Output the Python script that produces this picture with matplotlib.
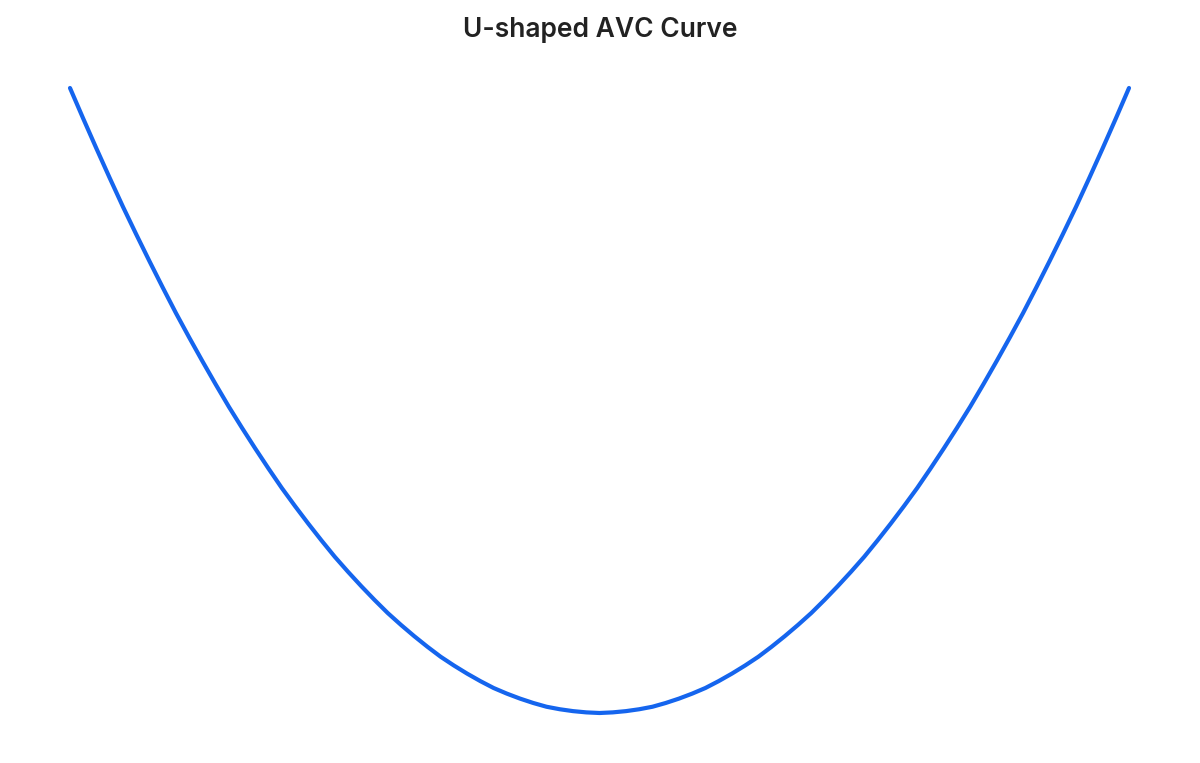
import matplotlib
matplotlib.use('Agg')
import matplotlib.pyplot as plt  # noqa: E402

# quantity and average variable cost
quantity = [0.0, 0.125, 0.25, 0.375, 0.5, 0.625, 0.75, 0.875,
            1.0, 1.125, 1.25, 1.375, 1.5, 1.625, 1.75, 1.875,
            2.0, 2.125, 2.25, 2.375, 2.5, 2.625, 2.75, 2.875,
            3.0, 3.125, 3.25, 3.375, 3.5, 3.625, 3.75, 3.875,
            4.0, 4.125, 4.25, 4.375, 4.5, 4.625, 4.75, 4.875,
            5.0, 5.125, 5.25, 5.375, 5.5, 5.625, 5.75, 5.875,
            6.0, 6.125, 6.25, 6.375, 6.5, 6.625, 6.75, 6.875,
            7.0, 7.125, 7.25, 7.375, 7.5, 7.625, 7.75, 7.875,
            8.0, 8.125, 8.25, 8.375, 8.5, 8.625, 8.75, 8.875,
            9.0, 9.125, 9.25, 9.375, 9.5, 9.625, 9.75, 9.875, 10.0]
avc = [12.00, 11.51, 11.03, 10.56, 10.10, 9.66, 9.23, 8.81,
       8.40, 8.01, 7.63, 7.26, 6.90, 6.56, 6.23, 5.91,
       5.60, 5.31, 5.03, 4.76, 4.50, 4.26, 4.03, 3.81,
       3.60, 3.41, 3.23, 3.06, 2.90, 2.76, 2.63, 2.51,
       2.40, 2.31, 2.23, 2.16, 2.10, 2.06, 2.03, 2.01,
       2.00, 2.01, 2.03, 2.06, 2.10, 2.16, 2.23, 2.31,
       2.40, 2.51, 2.63, 2.76, 2.90, 3.06, 3.23, 3.41,
       3.60, 3.81, 4.03, 4.26, 4.50, 4.76, 5.03, 5.31,
       5.60, 5.91, 6.23, 6.56, 6.90, 7.26, 7.63, 8.01,
       8.40, 8.81, 9.23, 9.66, 10.10, 10.56, 11.03, 11.51, 12.00]

W, H = 1200, 763
fig = plt.figure(figsize=(W / 100, H / 100), dpi=100)
ax = fig.add_axes([70 / W, (H - 713) / H, 1059 / W, 625 / H])
ax.plot(quantity, avc, color='#1565EE', lw=3.0,
        solid_capstyle='round', solid_joinstyle='round', clip_on=False)
ax.set_xlim(0, 10)
ax.set_ylim(2, 12)
ax.axis('off')

fig.text(0.5, 1 - 30 / H, 'U-shaped AVC Curve', ha='center', va='center',
         fontsize=19, fontweight='semibold', family=['Inter', 'DejaVu Sans'],
         color='#222222')

fig.savefig('out.png', dpi=100, facecolor='white')
